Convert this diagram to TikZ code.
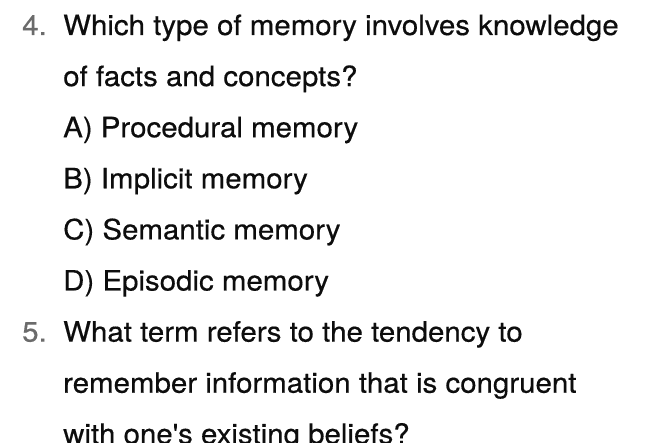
\documentclass[tikz,border=0pt]{standalone}
\usepackage{fontspec}
\setmainfont[FakeStretch=1.052,FakeBold=0.4]{TeX Gyre Heros}
\definecolor{ink}{HTML}{0D0D0D}
\definecolor{numgray}{HTML}{6B6B6B}
\begin{document}
\begin{tikzpicture}[x=1pt,y=-1pt,
    qline/.style={anchor=base west,inner sep=0pt,text=ink,font=\fontsize{28}{28}\selectfont},
    qnum/.style={qline,text=numgray}]
        \useasboundingbox[fill=white] (0,0) rectangle (661,443);
        \clip (0,0) rectangle (661,443);
        %% question 4
        \node[qnum] (n4) at (22,35) {4.};
        \node[qline] (q4a) at (63,35) {Which type of memory involves knowledge};
        \node[qline] (q4b) at (63,86.1) {of facts and concepts?};
        \node[qline] (optA) at (63,137.2) {A) Procedural memory};
        \node[qline] (optB) at (63,188.3) {B) Implicit memory};
        \node[qline] (optC) at (63,239.4) {C) Semantic memory};
        \node[qline] (optD) at (63,290.5) {D) Episodic memory};
        %% question 5
        \node[qnum] (n5) at (22,341.6) {5.};
        \node[qline] (q5a) at (63,341.6) {What term refers to the tendency to};
        \node[qline] (q5b) at (63,392.7) {remember information that is congruent};
        \node[qline] (q5c) at (63,443.8) {with one\textquotesingle s existing beliefs?};
    \end{tikzpicture}
\end{document}
